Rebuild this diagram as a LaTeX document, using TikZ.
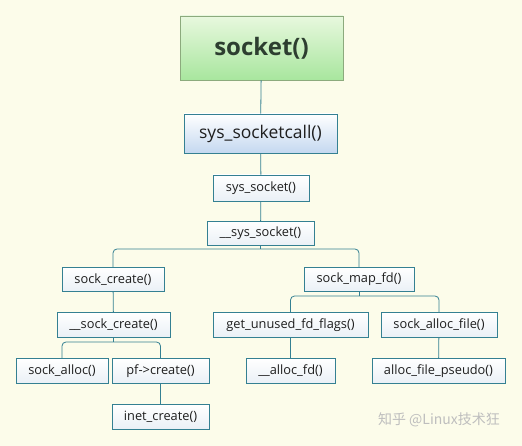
\documentclass[tikz,border=0pt]{standalone}
\usepackage{fontspec}
\setmainfont{Open Sans}
\newfontfamily\cjk{Noto Sans CJK SC}
\definecolor{bgcream}{RGB}{252,252,234}
\definecolor{lnteal}{RGB}{52,128,146}
\definecolor{grnedge}{RGB}{140,170,125}
\begin{document}
\begin{tikzpicture}[x=1pt, y=-1pt]
		\tikzset{nd/.style={draw=lnteal, line width=0.8pt, inner sep=0pt, minimum height=24.5pt, top color=white, bottom color={rgb,255:red,234;green,240;blue,246}, text={rgb,255:red,30;green,30;blue,30}, font=\fontsize{12.8}{14}\selectfont},
			ln/.style={draw=lnteal, line width=0.8pt, rounded corners=4pt}};

		\fill[bgcream] (0,0) rectangle (522,446);
		\useasboundingbox (0,0) rectangle (522,446);

		\node[draw=grnedge, line width=0.8pt, minimum width=163pt, minimum height=64pt, top color={rgb,255:red,232;green,248;blue,222}, bottom color={rgb,255:red,168;green,230;blue,158}, text={rgb,255:red,45;green,62;blue,48}, font=\fontsize{24}{28}\bfseries] (sk) at (261.5, 48) {socket()};
		\node[draw=lnteal, line width=0.8pt, minimum width=153pt, minimum height=39pt, top color=white, bottom color={rgb,255:red,196;green,216;blue,240}, text={rgb,255:red,30;green,30;blue,30}, font=\fontsize{17.5}{20}\selectfont] (scall) at (260.5, 133.5) {sys\_socketcall()};
		\node[nd, minimum width=96pt, minimum height=26pt] (ss) at (261, 188) {sys\_socket()};
		\node[nd, minimum width=107pt] (uss) at (260.5, 233.5) {\_\_sys\_socket()};
		\node[nd, minimum width=102pt] (sc) at (113, 279.5) {sock\_create()};
		\node[nd, minimum width=110pt] (smf) at (359, 279.5) {sock\_map\_fd()};
		\node[nd, minimum width=113pt] (usc) at (113.5, 325) {\_\_sock\_create()};
		\node[nd, minimum width=155pt] (guf) at (290.5, 325) {get\_unused\_fd\_flags()};
		\node[nd, minimum width=116pt] (saf) at (439, 325) {sock\_alloc\_file()};
		\node[nd, minimum width=92pt] (sa) at (62, 371) {sock\_alloc()};
		\node[nd, minimum width=97pt] (pf) at (160.5, 371) {pf->create()};
		\node[nd, minimum width=89pt] (afd) at (290.5, 371) {\_\_alloc\_fd()};
		\node[nd, minimum width=133pt] (afp) at (438.5, 371) {alloc\_file\_pseudo()};
		\node[nd, minimum width=97pt] (ic) at (160.5, 417) {inet\_create()};

		\node[text={rgb,255:red,190;green,190;blue,190}, font=\cjk\fontsize{14}{16}\selectfont] (wm) at (439, 420) {知乎 @Linux技术狂};

		\coordinate (bar0) at (261, 249);
		\coordinate (bar1) at (113, 342);
		\coordinate (bar2) at (359, 296);

		\draw[ln] (sk) to (scall);
		\draw[ln] (scall) to (ss);
		\draw[ln] (ss) to (uss);

		\draw[ln] (uss.south) to (uss.south |- bar0);
		\draw[ln] (sc.north) |- (bar0) -| (smf.north);

		\draw[ln] (sc) to (usc);
		\draw[ln] (usc.south) to (usc.south |- bar1);
		\draw[ln] (sa.north) |- (bar1) -| (pf.north);
		\draw[ln] (pf) to (ic);

		\draw[ln] (smf.south) to (smf.south |- bar2);
		\draw[ln] (guf.north) |- (bar2) -| (saf.north);
		\draw[ln] (guf) to (afd);
		\draw[ln] (saf) to (afp);

	\end{tikzpicture}
\end{document}
